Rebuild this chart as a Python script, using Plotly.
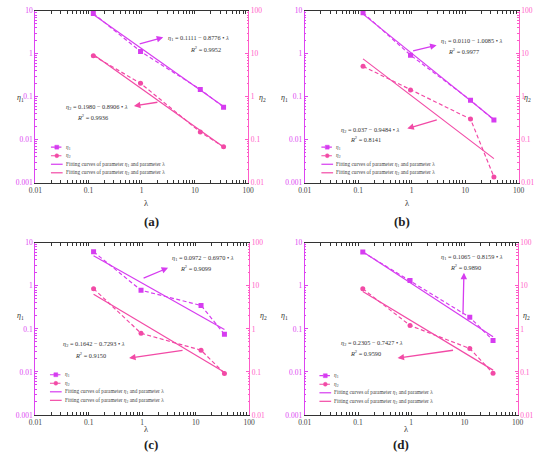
import plotly.graph_objects as go

W, H = 550, 468

# lambda values of the four test points, and the span of the fitted lines
lam = [0.123, 0.95, 12.6, 34.5]
lam_fit = [0.123, 34.5]

# eta1 (left axis) / eta2 (right axis)
eta1_a = [8.7, 1.13, 0.148, 0.057]
eta2_a = [9.0, 2.05, 0.15, 0.068]
fit1_a = [8.2, 0.059]
fit2_a = [9.6, 0.067]

eta1_b = [9.0, 0.93, 0.083, 0.0285]
eta2_b = [5.1, 1.44, 0.30, 0.0135]
fit1_b = [8.4, 0.0294]
fit2_b = [7.6, 0.036]

eta1_c = [6.2, 0.79, 0.35, 0.075]
eta2_c = [8.6, 0.79, 0.32, 0.092]
fit1_c = [5.0, 0.097]
fit2_c = [6.4, 0.098]

eta1_d = [6.1, 1.33, 0.186, 0.054]
eta2_d = [8.6, 1.2, 0.35, 0.093]
fit1_d = [6.2, 0.066]
fit2_d = [7.4, 0.11]

eq1 = ["0.1111 − 0.8776", "0.0110 − 1.0085", "0.0972 − 0.6970", "0.1065 − 0.8159"]
r2_1 = ["0.9952", "0.9977", "0.9099", "0.9890"]
eq2 = ["0.1980 − 0.8906", "0.037 − 0.9484", "0.1642 − 0.7293", "0.2305 − 0.7427"]
r2_2 = ["0.9936", "0.8141", "0.9150", "0.9590"]
panel_labels = ["(a)", "(b)", "(c)", "(d)"]

x_ticks = [0.01, 0.1, 1, 10, 100]
x_tick_text = ["0.01", "0.1", "1", "10", "100"]
yl_ticks = [0.001, 0.01, 0.1, 1, 10]
yl_tick_text = ["0.001", "0.01", "0.1", "1", "10"]
yr_ticks = [0.01, 0.1, 1, 10, 100]
yr_tick_text = ["0.01", "0.1", "1", "10", "100"]

C1 = "#d63cf0"      # eta1, violet
C2 = "#f24aa6"      # eta2, pink
AX1 = "#dd44f2"
AX2 = "#ff5cc8"
DARK = "#333333"
SERIF = "Liberation Serif"
DASH = "4px,2.5px"

panels = [
    (eta1_a, eta2_a, fit1_a, fit2_a),
    (eta1_b, eta2_b, fit1_b, fit2_b),
    (eta1_c, eta2_c, fit1_c, fit2_c),
    (eta1_d, eta2_d, fit1_d, fit2_d),
]

# plot boxes in pixels: left, top, right, bottom
boxes = [(29, 7, 247, 182), (305, 7, 524, 182), (29, 243.5, 248, 419), (305, 243.5, 523, 419)]

# text / arrow placement in pixels
ann_pos = [
    dict(eq1=(163, 29), r1=(185, 40), arr1=((135, 41), (160, 34)),
         eq2=(58, 99), r2=(70, 109), arr2=((155, 100), (130, 104))),
    dict(eq1=(442, 32), r1=(450, 42), arr1=((415, 48), (440, 42)),
         eq2=(340, 122), r2=(349, 132), arr2=((441, 118), (410, 127))),
    dict(eq1=(167, 259), r1=(175, 269), arr1=((139, 280), (165, 269)),
         eq2=(55, 353), r2=(68, 364), arr2=((180, 353), (125, 361))),
    dict(eq1=(442, 258), r1=(452, 268), arr1=((467, 317), (468, 274)),
         eq2=(340, 352), r2=(349, 362), arr2=((457, 353), (400, 361))),
]
legend_pos = [(45, 146), (322, 146), (44, 378), (320, 379)]


def px(x):
    return x / W


def py(y):
    return 1 - y / H


def note(x, y, text, font, **kw):
    d = dict(x=px(x), y=py(y), xref="paper", yref="paper", text=text, showarrow=False, font=font)
    d.update(kw)
    return d


fig = go.Figure()
layout = {}
annotations = []
shapes = []

for i, (e1, e2, f1, f2) in enumerate(panels):
    k = i + 1
    yl = 2 * i + 1
    yr = 2 * i + 2
    xname = "x" if k == 1 else "x%d" % k
    ylname = "y" if yl == 1 else "y%d" % yl
    yrname = "y%d" % yr

    fig.add_trace(go.Scatter(x=lam, y=e1, xaxis=xname, yaxis=ylname, mode="lines+markers",
                             line=dict(color=C1, width=1.2, dash=DASH),
                             marker=dict(symbol="square", size=5, color=C1), showlegend=False))
    fig.add_trace(go.Scatter(x=lam, y=e2, xaxis=xname, yaxis=yrname, mode="lines+markers",
                             line=dict(color=C2, width=1.2, dash=DASH),
                             marker=dict(symbol="circle", size=5, color=C2), showlegend=False))
    fig.add_trace(go.Scatter(x=lam_fit, y=f1, xaxis=xname, yaxis=ylname, mode="lines",
                             line=dict(color=C1, width=1.2), showlegend=False))
    fig.add_trace(go.Scatter(x=lam_fit, y=f2, xaxis=xname, yaxis=yrname, mode="lines",
                             line=dict(color=C2, width=1.2), showlegend=False))

    l, t, r, b = boxes[i]
    xdom = [px(l), px(r)]
    ydom = [py(b), py(t)]
    minor_common = dict(ticks="inside", ticklen=1.5, dtick="D1", showgrid=False)

    layout["xaxis" if k == 1 else "xaxis%d" % k] = dict(
        type="log", range=[-2, 2], domain=xdom, anchor=ylname,
        tickmode="array", tickvals=x_ticks, ticktext=x_tick_text,
        ticks="inside", ticklen=3, tickcolor=DARK, showline=True, linecolor=DARK, linewidth=1,
        mirror="allticks", showgrid=False, zeroline=False,
        tickfont=dict(family=SERIF, size=7.5, color="#444"),
        minor=dict(tickcolor=DARK, **minor_common))
    layout["yaxis" if yl == 1 else "yaxis%d" % yl] = dict(
        type="log", range=[-3, 1], domain=ydom, anchor=xname,
        tickmode="array", tickvals=yl_ticks, ticktext=yl_tick_text,
        ticks="inside", ticklen=3, tickcolor=AX1, showline=True, linecolor=AX1, linewidth=1.2,
        showgrid=False, zeroline=False,
        tickfont=dict(family=SERIF, size=7.5, color=AX1),
        minor=dict(tickcolor=AX1, **minor_common))
    layout["yaxis%d" % yr] = dict(
        type="log", range=[-2, 2], domain=ydom, anchor=xname, overlaying=ylname, side="right",
        tickmode="array", tickvals=yr_ticks, ticktext=yr_tick_text,
        ticks="inside", ticklen=3, tickcolor=AX2, showline=True, linecolor=AX2, linewidth=1.2,
        showgrid=False, zeroline=False,
        tickfont=dict(family=SERIF, size=7.5, color=AX2),
        minor=dict(tickcolor=AX2, **minor_common))

    # axis titles and panel label
    cx = (l + r) / 2
    annotations.append(note(cx, b + 21, "λ", dict(family=SERIF, size=8.5, color=DARK)))
    annotations.append(note(cx, b + 40, "<b>%s</b>" % panel_labels[i], dict(family=SERIF, size=13, color="#222")))
    annotations.append(note(l - 21, (t + b) / 2 - 6, "<i>η</i><sub>1</sub>", dict(family=SERIF, size=8, color=DARK)))
    annotations.append(note(r + 15, (t + b) / 2 - 6, "<i>η</i><sub>2</sub>", dict(family=SERIF, size=8, color=DARK)))

    # fitted equations with arrows
    a = ann_pos[i]
    efont = dict(family=SERIF, size=6.3, color=DARK)
    annotations.append(note(a["eq1"][0], a["eq1"][1], "<i>η</i><sub>1</sub> = %s • <i>λ</i>" % eq1[i],
                            efont, xanchor="left"))
    annotations.append(note(a["r1"][0], a["r1"][1], "<i>R</i><sup>2</sup> = %s" % r2_1[i], efont, xanchor="left"))
    annotations.append(note(a["eq2"][0], a["eq2"][1], "<i>η</i><sub>2</sub> = %s • <i>λ</i>" % eq2[i],
                            efont, xanchor="left"))
    annotations.append(note(a["r2"][0], a["r2"][1], "<i>R</i><sup>2</sup> = %s" % r2_2[i], efont, xanchor="left"))
    for key, col in (("arr1", C1), ("arr2", C2)):
        (tx, ty), (hx, hy) = a[key]
        annotations.append(dict(x=px(hx), y=py(hy), xref="paper", yref="paper", ax=tx - hx, ay=ty - hy,
                                text="", showarrow=True, arrowhead=2, arrowsize=1, arrowwidth=1.3,
                                arrowcolor=col))

    # hand-drawn legend (plotly legends cannot be packed this tightly)
    lx, ly = legend_pos[i]
    rows = [
        (C1, DASH, "square", "<i>η</i><sub>1</sub>"),
        (C2, DASH, "circle", "<i>η</i><sub>2</sub>"),
        (C1, "solid", None, "Fitting curves of parameter <i>η</i><sub>1</sub> and parameter λ"),
        (C2, "solid", None, "Fitting curves of parameter <i>η</i><sub>2</sub> and parameter λ"),
    ]
    for j, (col, dash, sym, label) in enumerate(rows):
        ry = ly + j * 8.7
        shapes.append(dict(type="line", xref="paper", yref="paper", x0=px(lx), x1=px(lx + 12),
                           y0=py(ry), y1=py(ry), line=dict(color=col, width=1.2, dash=dash)))
        if sym:
            mx = lx + 6
            shapes.append(dict(type="rect" if sym == "square" else "circle", xref="paper", yref="paper",
                               x0=px(mx - 2), x1=px(mx + 2), y0=py(ry + 2), y1=py(ry - 2),
                               fillcolor=col, line=dict(color=col, width=0.5)))
        annotations.append(note(lx + 13, ry, label, dict(family=SERIF, size=5.3, color="#444"),
                                xanchor="left", yanchor="middle"))

fig.update_layout(**layout)
fig.update_layout(width=W, height=H, margin=dict(l=0, r=0, t=0, b=0),
                  paper_bgcolor="white", plot_bgcolor="white",
                  annotations=annotations, shapes=shapes, showlegend=False)

# the page body has a default 8px margin; drop it so the figure sits at the window corner
fig.write_html("out.html", config={"displayModeBar": False},
               post_script="document.body.style.margin='0';")
